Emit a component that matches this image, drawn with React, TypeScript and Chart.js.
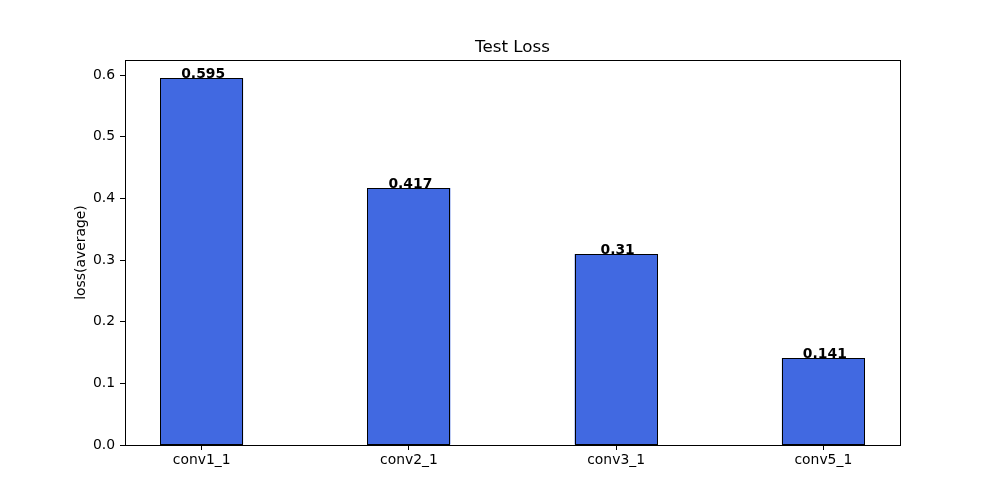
import React, { useEffect, useRef } from 'react';
import Chart from 'chart.js/auto';

// === Data ===
const CATEGORIES = ['conv1_1', 'conv2_1', 'conv3_1', 'conv5_1'];
const LOSS_VALUES = [0.595, 0.417, 0.31, 0.141];
const Y_TICKS = [0, 0.1, 0.2, 0.3, 0.4, 0.5, 0.6];

const TITLE = 'Test Loss';
const Y_LABEL = 'loss(average)';
const FONT = 'DejaVu Sans';
const BAR_COLOR = '#4169e1';

// matplotlib style auto-limits (5% margins)
const X_MIN = -0.2 - 0.17;
const X_MAX = 3.2 + 0.17;
const Y_MAX = Math.max(...LOSS_VALUES) * 1.05;

// === Plugin: bar edges, frame, title, y label, value labels ===
const decorPlugin = {
  id: 'decor',
  afterDatasetsDraw(chart: any) {
    const { ctx, chartArea, scales } = chart;
    const { left, right, top, bottom } = chartArea;
    ctx.save();
    ctx.strokeStyle = '#000';
    ctx.lineWidth = 1;

    // crisp black bar edges (matplotlib edgecolor='black')
    chart.getDatasetMeta(0).data.forEach((bar: any) => {
      const x0 = Math.round(bar.x - bar.width / 2) + 0.5;
      const x1 = Math.round(bar.x + bar.width / 2) - 0.5;
      const y0 = Math.round(bar.y) + 0.5;
      const y1 = Math.round(bar.base) - 0.5;
      ctx.strokeRect(x0, y0, x1 - x0, y1 - y0);
    });

    // frame
    ctx.strokeRect(Math.round(left) + 0.5, Math.round(top) + 0.5, Math.round(right - left), Math.round(bottom - top));

    // value labels
    ctx.fillStyle = '#000';
    ctx.font = `bold 13.9px "${FONT}"`;
    ctx.textAlign = 'center';
    ctx.textBaseline = 'alphabetic';
    LOSS_VALUES.forEach((v, i) => {
      ctx.fillText(String(v), scales.x.getPixelForValue(i) + 1.5, scales.y.getPixelForValue(v));
    });

    // title
    ctx.font = `16.7px "${FONT}"`;
    ctx.textBaseline = 'bottom';
    ctx.fillText(TITLE, (left + right) / 2, top - 4);

    // y axis label
    ctx.translate(88, (top + bottom) / 2);
    ctx.rotate(-Math.PI / 2);
    ctx.font = `13.9px "${FONT}"`;
    ctx.textBaseline = 'bottom';
    ctx.fillText(Y_LABEL, 0, 0);
    ctx.restore();
  },
};

const App: React.FC = () => {
  const canvasRef = useRef<HTMLCanvasElement>(null);

  useEffect(() => {
    if (!canvasRef.current) return;
    Chart.defaults.color = '#000';
    Chart.defaults.font.family = FONT;
    Chart.defaults.font.size = 13.9;

    const chart = new Chart(canvasRef.current, {
      type: 'bar',
      data: {
        datasets: [
          {
            data: LOSS_VALUES.map((v, i) => ({ x: i, y: v })),
            backgroundColor: BAR_COLOR,
            borderWidth: 0,
            barPercentage: 0.4,
            categoryPercentage: 1,
          },
        ],
      },
      options: {
        animation: false,
        responsive: false,
        maintainAspectRatio: false,
        layout: { padding: { left: 0, right: 100, top: 60, bottom: 0 } },
        plugins: {
          legend: { display: false },
          title: { display: false },
          tooltip: { enabled: false },
        },
        scales: {
          x: {
            type: 'linear',
            min: X_MIN,
            max: X_MAX,
            offset: false,
            afterBuildTicks: (scale: any) => {
              scale.ticks = CATEGORIES.map((_, i) => ({ value: i }));
            },
            afterFit: (scale: any) => {
              scale.height = 55;
            },
            ticks: {
              callback: (v: any) => CATEGORIES[v] ?? '',
              padding: 2,
              maxRotation: 0,
              autoSkip: false,
            },
            grid: {
              display: true,
              drawOnChartArea: false,
              drawTicks: true,
              tickLength: 5,
              color: '#000',
              offset: false,
            },
            border: { display: true, color: '#000' },
          },
          y: {
            type: 'linear',
            min: 0,
            max: Y_MAX,
            afterBuildTicks: (scale: any) => {
              scale.ticks = Y_TICKS.map((v) => ({ value: v }));
            },
            afterFit: (scale: any) => {
              scale.width = 125;
            },
            ticks: {
              callback: (v: any) => Number(v).toFixed(1),
              padding: 5,
            },
            grid: {
              display: true,
              drawOnChartArea: false,
              drawTicks: true,
              tickLength: 5,
              color: '#000',
            },
            border: { display: true, color: '#000' },
          },
        },
      },
      plugins: [decorPlugin],
    });

    return () => {
      chart.destroy();
    };
  }, []);

  return (
    <div style={{ position: 'fixed', left: 0, top: 0, width: 1000, height: 500, background: '#fff' }}>
      <canvas ref={canvasRef} width={1000} height={500} style={{ width: 1000, height: 500 }} />
    </div>
  );
};

export default App;
